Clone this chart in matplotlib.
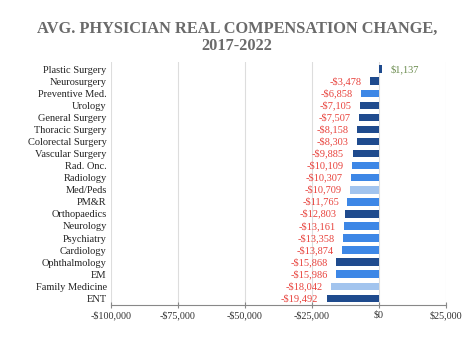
import numpy as np
import matplotlib
matplotlib.use("Agg")
import matplotlib.pyplot as plt
from matplotlib.ticker import FuncFormatter

specialties = ["Plastic Surgery", "Neurosurgery", "Preventive Med.", "Urology",
               "General Surgery", "Thoracic Surgery", "Colorectal Surgery",
               "Vascular Surgery", "Rad. Onc.", "Radiology", "Med/Peds", "PM&R",
               "Orthopaedics", "Neurology", "Psychiatry", "Cardiology",
               "Ophthalmology", "EM", "Family Medicine", "ENT"]
change = [1137, -3478, -6858, -7105, -7507, -8158, -8303, -9885, -10109, -10307,
          -10709, -11765, -12803, -13161, -13358, -13874, -15868, -15986, -18042, -19492]
# d = dark navy, m = medium blue, l = light blue
shade = ["d", "d", "m", "d", "d", "d", "d", "d", "m", "m",
         "l", "m", "d", "m", "m", "m", "d", "m", "l", "d"]

palette = {"d": "#1f4b8e", "m": "#3d87e6", "l": "#a2c4ee"}
serif = ["Liberation Serif", "DejaVu Serif"]

fig = plt.figure(figsize=(4.74, 3.40), dpi=100)
ax = fig.add_axes([0.234, 0.103, 0.707, 0.715])

y = np.arange(len(specialties))
ax.barh(y, change, height=0.62, color=[palette[s] for s in shade], zorder=3)

for yi, v in zip(y, change):
    if v < 0:
        ax.annotate("-${:,}".format(-v), (v, yi), xytext=(-6, 0),
                    textcoords="offset points", ha="right", va="center",
                    fontsize=7.5, color="#e8423c", family=serif)
    else:
        ax.annotate("${:,}".format(v), (v, yi), xytext=(6, 0),
                    textcoords="offset points", ha="left", va="center",
                    fontsize=7.5, color="#6b8c4e", family=serif)

ax.set_xlim(-100000, 25000)
ax.set_ylim(len(specialties) - 0.45, -0.6)
ax.set_xticks(np.arange(-100000, 25001, 25000))
ax.xaxis.set_major_formatter(FuncFormatter(
    lambda v, p: "$0" if v == 0 else ("-${:,.0f}".format(-v) if v < 0 else "${:,.0f}".format(v))))
ax.set_yticks(y)
ax.set_yticklabels(specialties)

ax.grid(axis="x", color="#dddddd", linewidth=0.8, zorder=0)
for s in ["top", "right", "left"]:
    ax.spines[s].set_visible(False)
ax.spines["bottom"].set_color("#888888")
ax.tick_params(axis="y", length=0, pad=3, labelsize=7.5, labelcolor="#222222")
ax.tick_params(axis="x", length=4, direction="inout", color="#888888", pad=2,
               labelsize=7.3, labelcolor="#333333")
for lbl in ax.get_xticklabels() + ax.get_yticklabels():
    lbl.set_family(serif)

fig.text(0.5, 0.89, "AVG. PHYSICIAN REAL COMPENSATION CHANGE,\n2017-2022",
         ha="center", va="center", fontsize=11.8, fontweight="bold",
         color="#6a6a6a", family=serif, linespacing=1.05)

fig.savefig("out.png", dpi=100, facecolor="white")
